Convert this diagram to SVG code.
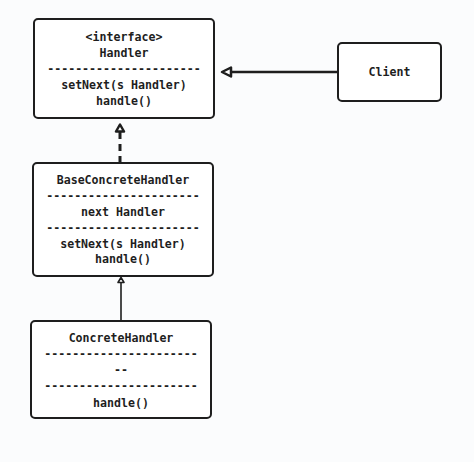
<svg xmlns="http://www.w3.org/2000/svg" width="474" height="462" viewBox="0 0 474 462">
<style>
.box{fill:#ffffff;stroke:#1e1e1e;stroke-width:2}
.t{font-family:"DejaVu Sans Mono","Liberation Mono",monospace;font-size:11.6px;font-weight:bold;fill:#1e1e1e;text-anchor:middle;dominant-baseline:central}
.ah{fill:#ffffff;stroke:#1e1e1e;stroke-linejoin:round}
</style>
<rect width="474" height="462" fill="#fbfcfd"/>
<g id="connectors" fill="none" stroke="#1e1e1e">
<line x1="338" y1="72" x2="226" y2="72" stroke-width="2.5"/>
<polygon class="ah" points="222,72 231,67.5 231,76.5" stroke-width="2.5"/>
<line x1="120" y1="163" x2="120" y2="130" stroke-width="3" stroke-dasharray="7,5"/>
<polygon class="ah" points="120,124.5 116,131.5 124,131.5" stroke-width="2.5"/>
<line x1="121" y1="321" x2="121" y2="282" stroke-width="1.6"/>
<polygon class="ah" points="121,277.5 118,282.5 124,282.5" stroke-width="1.6"/>
</g>
<g id="handler">
<rect class="box" x="34" y="19" width="180" height="99" rx="4"/>
<text class="t" x="124" y="37">&lt;interface&gt;</text>
<text class="t" x="124" y="53">Handler</text>
<text class="t" x="124" y="69">----------------------</text>
<text class="t" x="124" y="85">setNext(s Handler)</text>
<text class="t" x="124" y="101">handle()</text>
</g>
<g id="client">
<rect class="box" x="338" y="43" width="103" height="58" rx="4"/>
<text class="t" x="389.5" y="72">Client</text>
</g>
<g id="base">
<rect class="box" x="33" y="163" width="180" height="113" rx="4"/>
<text class="t" x="123" y="180">BaseConcreteHandler</text>
<text class="t" x="123" y="196">----------------------</text>
<text class="t" x="123" y="212">next Handler</text>
<text class="t" x="123" y="228">----------------------</text>
<text class="t" x="123" y="244">setNext(s Handler)</text>
<text class="t" x="123" y="259">handle()</text>
</g>
<g id="concrete">
<rect class="box" x="31" y="321" width="180" height="97" rx="4"/>
<text class="t" x="121" y="338">ConcreteHandler</text>
<text class="t" x="121" y="354">----------------------</text>
<text class="t" x="121" y="370">--</text>
<text class="t" x="121" y="386">----------------------</text>
<text class="t" x="121" y="403">handle()</text>
</g>
</svg>
